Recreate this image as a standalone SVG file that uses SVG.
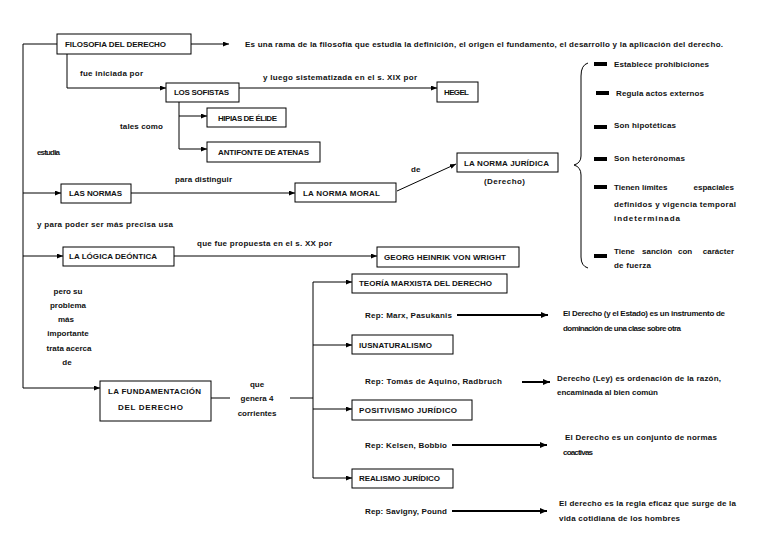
<svg xmlns="http://www.w3.org/2000/svg" width="768" height="543" viewBox="0 0 768 543">
<defs>
<style>
text{font-family:"Liberation Sans",Arial,sans-serif;font-size:8px;font-weight:bold;fill:#111}
.c{text-anchor:middle}
rect.n{fill:#fff;stroke:#000;stroke-width:1}
.l{fill:none;stroke:#000;stroke-width:1}
.t{fill:none;stroke:#000;stroke-width:2}
.b{fill:#000}
</style>
<marker id="a" markerWidth="6" markerHeight="5" refX="6" refY="2.5" orient="auto" markerUnits="userSpaceOnUse"><path d="M0,0 L6,2.5 L0,5 z" fill="#000"/></marker>
<marker id="at" markerWidth="7" markerHeight="6" refX="7" refY="3" orient="auto" markerUnits="userSpaceOnUse"><path d="M0,0 L7,3 L0,6 z" fill="#000"/></marker>
</defs>
<rect width="768" height="543" fill="#fff"/>

<g id="connectors">
<path class="l" d="M57,44 H23 V388"/>
<path class="l" d="M23,193 H61" marker-end="url(#a)"/>
<path class="l" d="M23,256 H63" marker-end="url(#a)"/>
<path class="l" d="M23,388 H100" marker-end="url(#a)"/>
<path class="l" d="M191,44 H229" marker-end="url(#a)"/>
<path class="l" d="M67,54 V88 H166" marker-end="url(#a)"/>
<path class="l" d="M239,88 H437" marker-end="url(#a)"/>
<path class="l" d="M179,102 V149"/>
<path class="l" d="M179,116 H207" marker-end="url(#a)"/>
<path class="l" d="M179,149 H207" marker-end="url(#a)"/>
<path class="l" d="M131,193 H295" marker-end="url(#a)"/>
<path class="l" d="M397,191 L456,164" marker-end="url(#a)"/>
<path class="l" d="M174,256 H377" marker-end="url(#a)"/>
<path class="l" d="M211,398 H230"/>
<path class="l" d="M290,398 H313"/>
<path class="l" d="M313,282 V478"/>
<path class="l" d="M313,282 H352" marker-end="url(#a)"/>
<path class="l" d="M313,345 H352" marker-end="url(#a)"/>
<path class="l" d="M313,409 H352" marker-end="url(#a)"/>
<path class="l" d="M313,478 H352" marker-end="url(#a)"/>
<path class="t" d="M457,315 H548" marker-end="url(#at)"/>
<path class="t" d="M522,382 H550" marker-end="url(#at)"/>
<path class="t" d="M452,445 H547" marker-end="url(#at)"/>
<path class="t" d="M452,511 H547" marker-end="url(#at)"/>
<path class="l" d="M588,63 Q581,65 581,76 L581,156 Q581,163 574,165 Q581,167 581,175 L581,257 Q581,266 588,268"/>
</g>

<g id="filosofia"><rect class="n" x="57" y="34" width="134" height="20"/><text x="65" y="47" textLength="101">FILOSOFIA DEL DERECHO</text></g>
<g id="sofistas"><rect class="n" x="166" y="83" width="73" height="19"/><text x="174" y="95" textLength="55">LOS SOFISTAS</text></g>
<g id="hegel"><rect class="n" x="437" y="82" width="41" height="20"/><text x="444" y="95" textLength="25">HEGEL</text></g>
<g id="hipias"><rect class="n" x="207" y="108" width="79" height="19"/><text x="218" y="121" textLength="59">HIPIAS DE ÉLIDE</text></g>
<g id="antifonte"><rect class="n" x="207" y="142" width="113" height="20"/><text x="218" y="155" textLength="91">ANTIFONTE DE ATENAS</text></g>
<g id="normas"><rect class="n" x="61" y="184" width="70" height="19"/><text x="69" y="196" textLength="53">LAS NORMAS</text></g>
<g id="moral"><rect class="n" x="295" y="183" width="101" height="19"/><text x="303" y="196" textLength="77">LA NORMA MORAL</text></g>
<g id="juridica"><rect class="n" x="457" y="153" width="101" height="19"/><text x="464" y="166" textLength="85">LA NORMA JURÍDICA</text><text x="484" y="184" textLength="41">(Derecho)</text></g>
<g id="logica"><rect class="n" x="63" y="247" width="111" height="19"/><text x="69" y="259" textLength="88">LA LÓGICA DEÓNTICA</text></g>
<g id="wright"><rect class="n" x="377" y="247" width="142" height="20"/><text x="384" y="260" textLength="122">GEORG HEINRIK VON WRIGHT</text></g>
<g id="fundamentacion"><rect class="n" x="100" y="381" width="111" height="40"/><text x="108" y="394" textLength="93">LA FUNDAMENTACIÓN</text><text x="118" y="410" textLength="65">DEL DERECHO</text></g>
<g id="marxista"><rect class="n" x="352" y="274" width="155" height="19"/><text x="359" y="286" textLength="133">TEORÍA MARXISTA DEL DERECHO</text></g>
<g id="iusnaturalismo"><rect class="n" x="352" y="335" width="101" height="19"/><text x="359" y="348" textLength="73">IUSNATURALISMO</text></g>
<g id="positivismo"><rect class="n" x="352" y="400" width="120" height="20"/><text x="359" y="413" textLength="98">POSITIVISMO JURÍDICO</text></g>
<g id="realismo"><rect class="n" x="352" y="469" width="101" height="19"/><text x="359" y="481" textLength="81">REALISMO JURÍDICO</text></g>

<g id="labels">
<text x="245" y="47" textLength="478">Es una rama de la filosofía que estudia la definición, el origen el fundamento, el desarrollo y la aplicación del derecho.</text>
<text x="80" y="76" textLength="63">fue iniciada por</text>
<text x="263" y="80" textLength="154">y  luego sistematizada en el s. XIX por</text>
<text x="120" y="129" textLength="43">tales como</text>
<text x="37" y="155" textLength="23">estudia</text>
<text x="175" y="182" textLength="57">para distinguir</text>
<text x="411" y="172">de</text>
<text x="37" y="227" textLength="136">y para poder ser más precisa usa</text>
<text x="197" y="246" textLength="135">que fue propuesta en el s. XX por</text>
<text class="c" x="68" y="294">pero su</text>
<text class="c" x="68" y="308">problema</text>
<text class="c" x="66" y="322">más</text>
<text class="c" x="68" y="336">importante</text>
<text class="c" x="69" y="351">trata acerca</text>
<text class="c" x="67" y="365">de</text>
<text class="c" x="257" y="387">que</text>
<text class="c" x="257" y="401">genera 4</text>
<text class="c" x="257" y="416">corrientes</text>
<text x="365" y="318" textLength="87">Rep: Marx, Pasukanis</text>
<text x="365" y="384" textLength="137">Rep: Tomás de Aquino,  Radbruch</text>
<text x="365" y="448" textLength="82">Rep: Kelsen, Bobbio</text>
<text x="365" y="514" textLength="82">Rep: Savigny, Pound</text>
<text x="563" y="316" textLength="162">El Derecho (y el Estado) es un instrumento de</text>
<text x="563" y="331" textLength="118">dominación de una clase sobre otra</text>
<text x="557" y="381" textLength="164">Derecho (Ley) es ordenación de la razón,</text>
<text x="557" y="395" textLength="101">encaminada al bien común</text>
<text x="565" y="440" textLength="152">El Derecho es un conjunto de normas</text>
<text x="563" y="455" textLength="30">coactivas</text>
<text x="559" y="506" textLength="177">El derecho es la regla eficaz que surge de la</text>
<text x="559" y="521" textLength="121">vida cotidiana de los hombres</text>
</g>

<g id="caracteristicas">
<rect class="b" x="594" y="62" width="13" height="4"/>
<text x="614" y="67" textLength="95">Establece prohibiciones</text>
<rect class="b" x="596" y="91" width="13" height="4"/>
<text x="616" y="96" textLength="88">Regula actos externos</text>
<rect class="b" x="594" y="125" width="13" height="4"/>
<text x="614" y="128" textLength="62">Son hipotéticas</text>
<rect class="b" x="594" y="157" width="13" height="4"/>
<text x="614" y="161" textLength="71">Son heterónomas</text>
<rect class="b" x="594" y="185" width="13" height="4"/>
<text y="190"><tspan x="614">Tienen</tspan><tspan x="642">límites</tspan><tspan x="734" text-anchor="end">espaciales</tspan></text>
<text x="614" y="207" textLength="122">definidos y vigencia temporal</text>
<text x="614" y="221" textLength="66">indeterminada</text>
<rect class="b" x="594" y="254" width="13" height="4"/>
<text y="254"><tspan x="614">Tiene</tspan><tspan x="642">sanción</tspan><tspan x="678">con</tspan><tspan x="734" text-anchor="end">carácter</tspan></text>
<text x="614" y="268" textLength="37">de fuerza</text>
</g>
</svg>
